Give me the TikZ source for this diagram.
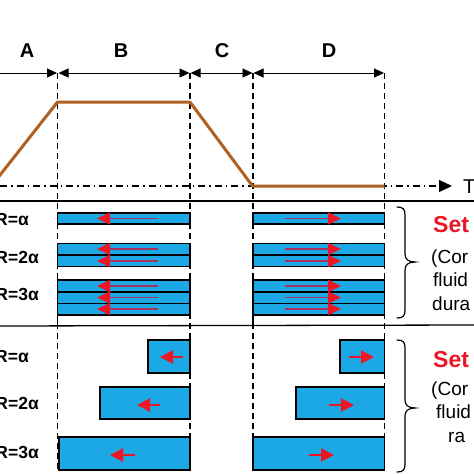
\documentclass[tikz,border=0pt]{standalone}
\usepackage{fontspec}
\setmainfont{Liberation Sans}
\usetikzlibrary{arrows.meta}
\definecolor{brownl}{RGB}{176,96,32}
\definecolor{barblue}{RGB}{28,168,228}
\definecolor{ared}{RGB}{236,22,36}
\definecolor{ashaft}{RGB}{165,50,95}
\begin{document}
\begin{tikzpicture}[x=1pt,y=-1pt,
  dim/.style={line width=0.9pt,{Triangle[length=10pt,width=9pt]}-{Triangle[length=10pt,width=9pt]}},
  guide/.style={line width=1.1pt,dash pattern=on 6pt off 4pt},
  bar/.style={draw=black,fill=barblue,line width=1.6pt},
  flowA/.style={draw=ashaft,line width=1.6pt,-{Triangle[length=13pt,width=12pt,color=ared]}},
  flowB/.style={draw=ared,line width=2.2pt,-{Triangle[length=13pt,width=13pt]}},
  lab/.style={font=\bfseries\fontsize{17.5}{17.5}\selectfont,anchor=base east,inner sep=0pt},
  phase/.style={font=\bfseries\fontsize{20}{20}\selectfont,anchor=base,inner sep=0pt},
  settitle/.style={font=\bfseries\fontsize{23}{23}\selectfont,text=ared,anchor=base west,inner sep=0pt},
  note/.style={font=\fontsize{19}{19}\selectfont,anchor=base west,inner sep=0pt},
  bracestyle/.style={line width=1.2pt,line cap=round}
]
\useasboundingbox (0,0) rectangle (474,474);
\clip (0,0) rectangle (474,474);
\fill[white] (0,0) rectangle (474,474);

% guides
\foreach \gx in {57.5,190,253,384.5}{\draw[guide] (\gx,73) -- (\gx,472);}

% dimension arrows
\draw[dim] (-20,73) -- (57,73);
\draw[dim] (58.5,73) -- (189.5,73);
\draw[dim] (190.5,73) -- (252.5,73);
\draw[dim] (253.5,73) -- (384,73);
\node[phase] (pA) at (27,57) {A};
\node[phase] (pB) at (121,57) {B};
\node[phase] (pC) at (222,57) {C};
\node[phase] (pD) at (329,57) {D};

% time axis
\draw[line width=1.1pt,dash pattern=on 7pt off 4pt on 1.5pt off 4pt,-{Triangle[length=13pt,width=12pt]}] (0,186) -- (452,186);
\node[font=\fontsize{20}{20}\selectfont,anchor=base west,inner sep=0pt] (tT) at (463,193) {T};

% brown profile
\draw[brownl,line width=3pt,line join=round] (-2,177.6) -- (57.5,102) -- (190,102) -- (252.5,186) -- (384.5,186);

% separators
\draw[line width=1.3pt] (0,201) -- (474,201);
\draw[line width=1.3pt] (0,326) -- (474,325);

% set 1 bars
\foreach \xa/\xb in {57.5/190,253/384.5}{
  \draw[bar] (\xa,213) rectangle (\xb,224);
  \draw[bar] (\xa,243.5) rectangle (\xb,255);
  \draw[bar] (\xa,255) rectangle (\xb,266.5);
  \draw[bar] (\xa,280) rectangle (\xb,291.7);
  \draw[bar] (\xa,291.7) rectangle (\xb,303.3);
  \draw[bar] (\xa,303.3) rectangle (\xb,315);
  \draw[line width=1.2pt] (\xa,315) -- (\xa,326);
}
\foreach \yy in {218.5,249,261,286,297.5,309}{
  \draw[flowA] (158,\yy) -- (97,\yy);
  \draw[flowA] (285,\yy) -- (341,\yy);
}

% set 2 bars
\draw[bar] (148,340) rectangle (190,373);
\draw[bar] (100,387) rectangle (190,419);
\draw[bar] (59,437) rectangle (190,470);
\draw[bar] (340,340) rectangle (384.5,373);
\draw[bar] (296,387) rectangle (384.5,419);
\draw[bar] (253,437) rectangle (384.5,470);
\draw[flowB] (183,357) -- (160,357);
\draw[flowB] (160,405) -- (137,405);
\draw[flowB] (135,455) -- (110,455);
\draw[flowB] (349,357) -- (374,357);
\draw[flowB] (329,405) -- (354,405);
\draw[flowB] (309,455) -- (334,455);

% row labels
\node[lab] (l1) at (29,225) {R=α};
\node[lab] (l2) at (39,263) {R=2α};
\node[lab] (l3) at (39,300) {R=3α};
\node[lab] (l4) at (29,362) {R=α};
\node[lab] (l5) at (39,409) {R=2α};
\node[lab] (l6) at (39,458) {R=3α};

% braces
\draw[bracestyle] (397,207) .. controls (403,207) and (405,209) .. (405,215) -- (405,254) .. controls (405,259) and (408,262) .. (415,262) .. controls (408,262) and (405,265) .. (405,270) -- (405,310) .. controls (405,316) and (403,318) .. (397,318);
\draw[bracestyle] (397,340) .. controls (403,340) and (405,342) .. (405,348) -- (405,400) .. controls (405,405) and (408,408) .. (415,408) .. controls (408,408) and (405,411) .. (405,416) -- (405,464) .. controls (405,470) and (403,472) .. (397,472);

% right texts
\node[settitle] (s1) at (433,232) {Set};
\node[note] (n1) at (431,263) {(Cor};
\node[note] (n2) at (433,286) {fluid};
\node[note] (n3) at (432,310) {dura};
\node[settitle] (s2) at (433,367) {Set};
\node[note] (n4) at (431,395) {(Cor};
\node[note] (n5) at (436,418) {fluid};
\node[note] (n6) at (448,442) {ra};
\end{tikzpicture}
\end{document}
